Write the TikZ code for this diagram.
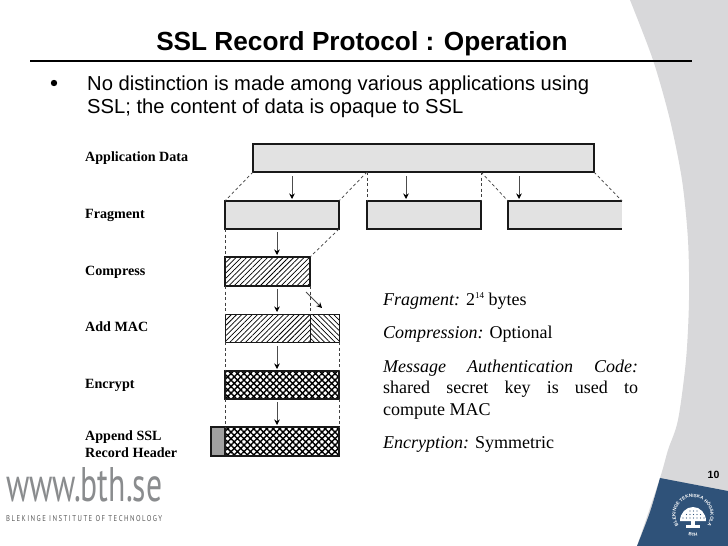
\documentclass[tikz,border=0pt]{standalone}
\usepackage{fontspec}
\usepackage{graphicx}
\setmainfont{Liberation Serif}
\newfontfamily\arialf{Liberation Sans}
\newfontfamily\logof{PT Sans}
\usetikzlibrary{arrows.meta,patterns.meta,decorations.text}
\definecolor{sidegrey}{HTML}{D8D8DA}
\definecolor{bthblue}{HTML}{2F5279}
\definecolor{logogrey}{HTML}{8A8C8E}
\definecolor{boxgrey}{HTML}{E2E2E2}
\definecolor{hdrgrey}{HTML}{A0A0A0}
\tikzset{
  box/.style={draw=black!90,line width=1.2pt,inner sep=0pt,outer sep=0pt,anchor=north west},
  fragbox/.style={box,fill=boxgrey,minimum width=114pt,minimum height=28pt},
  cutbox/.style={fill=boxgrey,inner sep=0pt,outer sep=0pt,anchor=north west,minimum width=114pt,minimum height=28pt},
  hatchne/.style={box,pattern={Lines[angle=45,distance=3.7pt,line width=.75pt]}},
  hatchnw/.style={box,line width=1pt,pattern={Lines[angle=-45,distance=3.7pt,line width=.7pt]}},
  cross/.style={box,pattern={Hatch[angle=45,distance=4.6pt,line width=1.45pt]}},
  dashline/.style={draw=black!75,line width=.7pt,dash pattern=on 3pt off 2.5pt},
  arr/.style={draw=black!70,line width=.8pt,-{Stealth[length=5.5pt,width=5.5pt,black]}},
  steplabel/.style={anchor=base west,inner sep=0pt,font=\fontsize{14.1}{16}\selectfont\bfseries},
  note/.style={anchor=base west,inner sep=0pt,font=\fontsize{18}{21}\selectfont},
  body/.style={anchor=base west,inner sep=0pt,font=\arialf\fontsize{20.2}{23}\selectfont},
  sealtext/.style={decorate,decoration={text along path,text align=center,text color=white,text={#1}}},
}
\begin{document}
\begin{tikzpicture}[x=1pt,y=-1pt]
\useasboundingbox (0,0) rectangle (728,546);
\fill[white] (0,0) rectangle (728,546);
% sidebar
\fill[sidegrey] plot[smooth] coordinates {(630,0) (653,60) (670,120) (682,180) (688,240) (689,300) (686,360) (678,420) (668,450) (660,478) (637,546)} -- (728,546) -- (728,0) -- cycle;
\fill[bthblue] plot[smooth] coordinates {(660,478) (650,512) (637,546)} -- (728,546) -- (728,491) -- cycle;
% title
\node[anchor=base,inner sep=0pt,font=\arialf\bfseries\fontsize{26.2}{30}\selectfont] (title) at (362,50) {SSL Record Protocol : Operation};
\coordinate (ruleL) at (30,61);
\coordinate (ruleR) at (692,61);
\draw[line width=2pt,black] (ruleL) -- (ruleR);
% bullet
\fill[black] (54,83) circle (3.2);
\node[body] (b1) at (87,90) {No distinction is made among various applications using};
\node[body] (b2) at (87,113) {SSL; the content of data is opaque to SSL};
% step labels
\node[steplabel] (lApp) at (85,161) {Application Data};
\node[steplabel] (lFrag) at (85,218) {Fragment};
\node[steplabel] (lComp) at (85,275) {Compress};
\node[steplabel] (lMac) at (85,331) {Add MAC};
\node[steplabel] (lEnc) at (85,388) {Encrypt};
\node[steplabel] (lApp1) at (85,440) {Append SSL};
\node[steplabel] (lApp2) at (85,457) {Record Header};
% boxes
\node[fragbox,minimum width=341pt] (app) at (253,144) {};
\node[fragbox] (fragA) at (225,201) {};
\node[fragbox] (fragB) at (367,201) {};
\node[cutbox] (fragC) at (508,201) {};
\draw[line width=1.2pt,black!90] (fragC.north east) -- (fragC.north west) -- (fragC.south west) -- (fragC.south east);
\node[hatchne,minimum width=85pt,minimum height=29pt] (comp) at (225,257) {};
\node[hatchne,line width=1pt,minimum width=85pt,minimum height=28pt] (macA) at (225,314) {};
\node[hatchnw,minimum width=29pt,minimum height=28pt] (macB) at (310,314) {};
\node[cross,minimum width=114pt,minimum height=28pt] (encr) at (225,371) {};
\node[cross,minimum width=114pt,minimum height=29pt] (seal) at (225,427) {};
\node[box,fill=hdrgrey,minimum width=14pt,minimum height=29pt] (hdr) at (211,427) {};
% dashed guides
\draw[dashline] (app.south west) -- (fragA.north west);
\draw[dashline] (fragB.north west |- app.south) -- (fragA.north east);
\draw[dashline] (fragB.north west |- app.south) -- (fragB.north west);
\draw[dashline] (fragB.north east |- app.south) -- (fragB.north east);
\draw[dashline] (fragB.north east |- app.south) -- (fragC.north west);
\draw[dashline] (app.south east) -- (fragC.north east);
\draw[dashline] (fragA.south west) -- (comp.north west);
\draw[dashline] (fragA.south east) -- (comp.north east);
\draw[dashline] (comp.south west) -- (macA.north west);
\draw[dashline] (comp.south east) -- (macB.north west);
\draw[dashline] (macA.south west) -- (encr.north west);
\draw[dashline] (macB.south east) -- (encr.north east);
\draw[dashline] (encr.south west) -- (seal.north west);
\draw[dashline] (encr.south east) -- (seal.north east);
% arrows
\coordinate (a1s) at (292,176); \coordinate (a1e) at (292,199);
\coordinate (a2s) at (406,176); \coordinate (a2e) at (406,199);
\coordinate (a3s) at (519,176); \coordinate (a3e) at (519,199);
\coordinate (a4s) at (277,232); \coordinate (a4e) at (277,255);
\coordinate (a5s) at (277,289); \coordinate (a5e) at (277,312);
\coordinate (a6s) at (306,292); \coordinate (a6e) at (322,308);
\coordinate (a7s) at (277,346); \coordinate (a7e) at (277,369);
\coordinate (a8s) at (277,402); \coordinate (a8e) at (277,425);
\foreach \n in {1,...,8} {\draw[arr] (a\n s) -- (a\n e);}
% notes
\node[note] (n1) at (383,305) {\textit{Fragment:} 2\raisebox{6.5pt}{\fontsize{9}{9}\selectfont 14} bytes};
\node[note] (n2) at (383,338) {\textit{Compression:} Optional};
\node[note] (n3) at (383,372) {\makebox[255pt][s]{\textit{Message Authentication Code:}}};
\node[note] (n4) at (383,393) {\makebox[255pt][s]{shared secret key is used to}};
\node[note] (n5) at (383,415) {compute MAC};
\node[note] (n6) at (383,448) {\textit{Encryption:} Symmetric};
% page number
\node[anchor=base,inner sep=0pt,font=\arialf\bfseries\fontsize{10.5}{12}\selectfont] (pg) at (713.5,478) {10};
% web logo
\node[anchor=south west,inner sep=0pt,text=logogrey] (web) at (6,502) {\resizebox{156pt}{34pt}{\logof www.bth.se}};
\node[anchor=south west,inner sep=0pt,text=black!65] (inst) at (6,522) {\resizebox{156pt}{6pt}{\logof\addfontfeature{LetterSpace=22}BLEKINGE INSTITUTE OF TECHNOLOGY}};
% seal
\begin{scope}[shift={(693pt,-515pt)},y=1pt,x=1pt]
  \path[sealtext={|\arialf\bfseries\fontsize{4.6}{5}\selectfont|BLEKINGE TEKNISKA HÖGSKOLA}]
    (222:17.5) arc[start angle=222,end angle=-42,radius=17.5];
  \path[sealtext={|\arialf\bfseries\fontsize{4.6}{5}\selectfont|BTH}]
    (240:21) arc[start angle=240,end angle=300,radius=21];
  \fill[white] (-13,-6) arc[start angle=180,end angle=0,x radius=13,y radius=14] -- cycle;
  \fill[white] (-7,-10) rectangle (7,-13);
  \fill[white] (-2,-5) rectangle (2,-11);
  \foreach \a in {-10,-6.5,...,11}{\foreach \b in {-3,0.5,...,8}{
    \pgfmathsetmacro{\r}{sqrt((\a-.5)*(\a-.5)+(\b+6)*(\b+6))}
    \ifdim\r pt<11.5pt \fill[bthblue] (\a,\b) circle (.55);\fi}}
\end{scope}
\end{tikzpicture}
\end{document}
